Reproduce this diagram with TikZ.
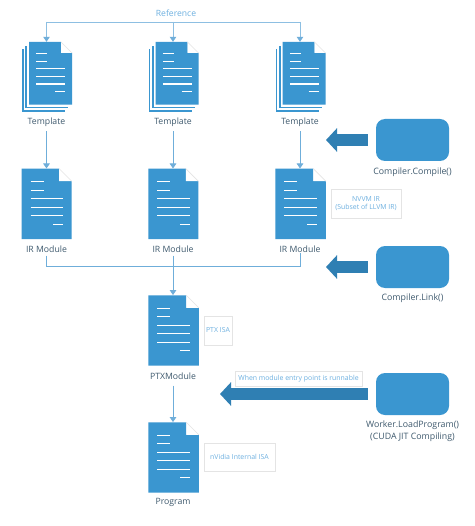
\documentclass[tikz,border=0pt]{standalone}
\usepackage{fontspec}
\setmainfont{Open Sans}
\usetikzlibrary{arrows.meta}
\definecolor{docblue}{HTML}{3A96D0}
\definecolor{darkblue}{HTML}{2F7FB3}
\definecolor{linkblue}{HTML}{6FAEDA}
\definecolor{toplink}{HTML}{8DBFE2}
\definecolor{labeltext}{HTML}{3F5A6E}
\definecolor{notetext}{HTML}{6DB0E0}
\definecolor{noteedge}{HTML}{E4E4E4}
\tikzset{
  link/.style={draw=linkblue,line width=0.8pt,-{Triangle[length=5pt,width=6.5pt]},color=linkblue},
  plainlink/.style={draw=linkblue,line width=0.8pt},
  reflink/.style={draw=toplink,line width=0.8pt},
  reftip/.style={draw=toplink,line width=0.8pt,-{Triangle[length=5pt,width=6.5pt,color=linkblue]}},
  bigarrow/.style={draw=darkblue,line width=11.5pt,-{Triangle[length=11pt,width=23pt,color=darkblue]},shorten <=8pt},
  doclabel/.style={text=labeltext,font=\fontsize{8.7}{10}\selectfont,inner sep=0pt},
  toollabel/.style={text=labeltext,font=\fontsize{8.8}{12}\selectfont,inner sep=0pt,align=center},
  notebox/.style={draw=noteedge,line width=0.8pt,fill=white,text=notetext,font=\fontsize{6.9}{8.8}\selectfont,inner sep=0pt,align=center},
  toolbox/.style={fill=docblue,rounded corners=9pt,minimum width=73pt,minimum height=42pt,inner sep=0pt}
}
% #1 name, #2 left, #3 top, #4 width, #5 height, #6 fold, #7 margin
\newcommand{\docicon}[7]{%
  \begin{scope}[shift={(#2,#3)}]
    \fill[docblue] (0,0) -- (#4-#6,0) -- (#4-#6,#6) -- (#4,#6) -- (#4,#5) -- (0,#5) -- cycle;
    \fill[white] (#4-#6,0) -- (#4,#6) -- (#4-#6,#6) -- cycle;
    \draw[draw=noteedge,line width=0.6pt] (#4-#6,0) -- (#4,#6);
    \draw[white,line width=1.2pt]
      (#7,#5*0.185) -- ++(#4*0.26,0)
      (#7,#5*0.305) -- ++(#4*0.26,0)
      (#7,#5*0.427) -- ++(#4-2*#7+0.5,0)
      (#7,#5*0.548) -- ++(#4-2*#7+0.5,0)
      (#7,#5*0.670) -- ++(#4-2*#7+0.5,0)
      (#4-#7-9.5,#5*0.790) -- ++(10,0);
  \end{scope}
  \node[inner sep=0pt,minimum width=#4 pt,minimum height=#5 pt] (#1) at ({#2+#4/2},{#3+#5/2}) {};
}
% #1 name, #2 left, #3 top
\newcommand{\stackicon}[3]{%
  \begin{scope}[shift={(#2,#3)}]
    \fill[docblue] (-7,7) rectangle ++(43,62.7);
    \fill[white] (-5.5,5.5) rectangle ++(43,62.7);
    \fill[docblue] (-3.8,3.8) rectangle ++(43,62.7);
    \fill[white] (-2,2) rectangle ++(43,62.7);
  \end{scope}
  \docicon{#1}{#2}{#3}{43}{62.7}{11}{7.3}
}
\begin{document}
\begin{tikzpicture}[x=1pt,y=-1pt]
\useasboundingbox (0,0) rectangle (474,526);
\fill[white] (0,0) rectangle (474,526);

\stackicon{tA}{29}{42}
\stackicon{tB}{155.5}{42}
\stackicon{tC}{282.5}{42}
\node[doclabel] (ltA) at (46.5,122.5) {Template};
\node[doclabel] (ltB) at (173,122.5) {Template};
\node[doclabel] (ltC) at (300,122.5) {Template};

\docicon{iA}{21.7}{168.7}{50}{70.3}{12.5}{9}
\docicon{iB}{148.3}{168.7}{50}{70.3}{12.5}{9}
\docicon{iC}{275.3}{168.7}{50.5}{70.3}{12.5}{9}
\node[doclabel] (liA) at (46.5,249) {IR Module};
\node[doclabel] (liB) at (173,249) {IR Module};
\node[doclabel] (liC) at (300,249) {IR Module};

\docicon{ptx}{148.3}{295.3}{50.5}{70.3}{12.5}{9}
\docicon{prog}{148.3}{422.3}{50.5}{70.3}{12.5}{9}
\node[doclabel] (lptx) at (173,376) {PTXModule};
\node[doclabel] (lprog) at (173,502.5) {Program};

% reference bar
\node[text=notetext,font=\fontsize{8.6}{10}\selectfont,inner sep=0pt] (ref) at (176,13) {Reference};
\coordinate (rL) at (46.5,22);
\coordinate (rM) at (173,22);
\coordinate (rR) at (300,22);
\draw[reflink] (rL) -- (rR);
\draw[reftip] (rL) -- (rL |- tA.north);
\draw[reftip] (rM) -- (rM |- tB.north);
\draw[reftip] (rR) -- (rR |- tC.north);

% template to IR
\draw[link] (ltA.south) ++(0,4) -- (ltA |- iA.north);
\draw[link] (ltB.south) ++(0,4) -- (ltB |- iB.north);
\draw[link] (ltC.south) ++(0,4) -- (ltC |- iC.north);

% merge
\coordinate (mL) at (46.5,266);
\coordinate (mM) at (173,266);
\coordinate (mR) at (300,266);
\draw[plainlink] (liA.south) ++(0,3) -- (mL) -- (mR) -- (liC.south);
\draw[plainlink] (liB.south) ++(0,3) -- (mM);
\draw[link] (mM) -- (mM |- ptx.north);
\draw[link] (lptx.south) ++(0,6) -- (lptx |- prog.north);

% tools
\node[toolbox] (compile) at (412.5,140) {};
\node[toolbox] (linker) at (412.5,267) {};
\node[toolbox] (worker) at (412.5,394) {};
\node[toollabel] (lcompile) at (412.5,172) {Compiler.Compile()};
\node[toollabel] (llinker) at (412.5,298.5) {Compiler.Link()};
\node[toollabel] (lworker) at (412.5,431) {Worker.LoadProgram()\\(CUDA JIT Compiling)};

\coordinate (tipC) at (326,140);
\coordinate (tipL) at (326,267);
\coordinate (tipW) at (220,394);
\draw[bigarrow] (compile.west) -- (tipC);
\draw[bigarrow] (linker.west) -- (tipL);
\draw[bigarrow] (worker.west) -- (tipW);

% notes
\node[notebox,minimum width=70pt,minimum height=29pt] (nIR) at (366,203.5) {NVVM IR\\(Subset of LLVM IR)};
\node[notebox,minimum width=28pt,minimum height=29pt] (nPTX) at (218,330.5) {PTX ISA};
\node[notebox,minimum width=127pt,minimum height=15pt] (nRun) at (298.5,378.5) {When module entry point is runnable};
\node[notebox,minimum width=71pt,minimum height=28pt] (nInt) at (239.5,457) {nVidia Internal ISA};
\end{tikzpicture}
\end{document}
